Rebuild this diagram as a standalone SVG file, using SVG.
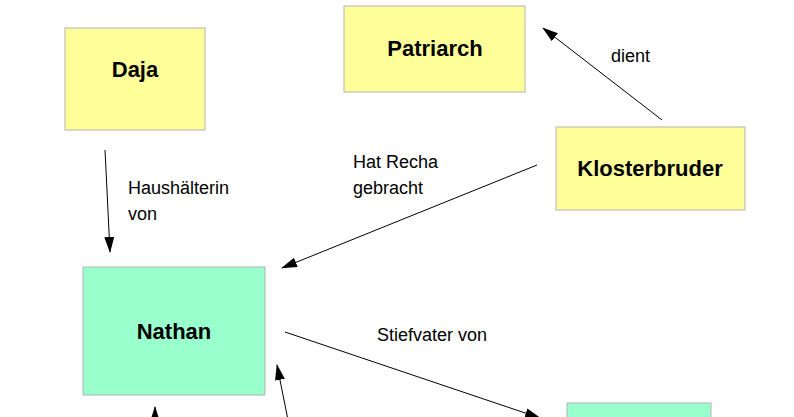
<svg xmlns="http://www.w3.org/2000/svg" width="794" height="417" viewBox="0 0 794 417">
<style>
.y{fill:#ffff99;stroke:#b3b3b3;stroke-width:1}
.g{fill:#99ffcc;stroke:#b3b3b3;stroke-width:1}
.n{font-family:"Liberation Sans",Arial,sans-serif;font-weight:bold;font-size:22px;text-anchor:middle}
.l{font-family:"Liberation Sans",Arial,sans-serif;font-size:18px}
.c{stroke:#000;stroke-width:1;fill:none;marker-end:url(#a)}
</style>
<defs><marker id="a" markerWidth="16" markerHeight="10" refX="15" refY="5" orient="auto" markerUnits="userSpaceOnUse"><path d="M0,0L16,5L0,10z" fill="#000"/></marker></defs>
<rect width="794" height="417" fill="#fff"/>
<g id="daja"><rect class="y" x="65" y="28" width="140" height="102"/><text class="n" x="135" y="77">Daja</text></g>
<g id="patriarch"><rect class="y" x="344" y="6" width="181" height="86"/><text class="n" x="435" y="56">Patriarch</text></g>
<g id="klosterbruder"><rect class="y" x="556" y="127" width="189" height="83"/><text class="n" x="650" y="176">Klosterbruder</text></g>
<g id="nathan"><rect class="g" x="83" y="267" width="182" height="128"/><text class="n" x="174" y="339">Nathan</text></g>
<g id="recha"><rect class="g" x="567" y="403" width="144" height="30"/></g>
<g id="connectors">
<line class="c" x1="105" y1="150" x2="110" y2="252"/>
<line class="c" x1="537" y1="165" x2="282" y2="268"/>
<line class="c" x1="662" y1="120" x2="543" y2="28"/>
<line class="c" x1="285" y1="332" x2="540" y2="418"/>
<line class="c" x1="155" y1="430" x2="155" y2="407"/>
<line class="c" x1="290" y1="430" x2="277" y2="365"/>
<text class="l" x="128" y="194">Haushälterin</text><text class="l" x="128" y="220">von</text>
<text class="l" x="353" y="168">Hat Recha</text><text class="l" x="353" y="194">gebracht</text>
<text class="l" x="611" y="62">dient</text>
<text class="l" x="377" y="341">Stiefvater von</text>
</g>
</svg>
